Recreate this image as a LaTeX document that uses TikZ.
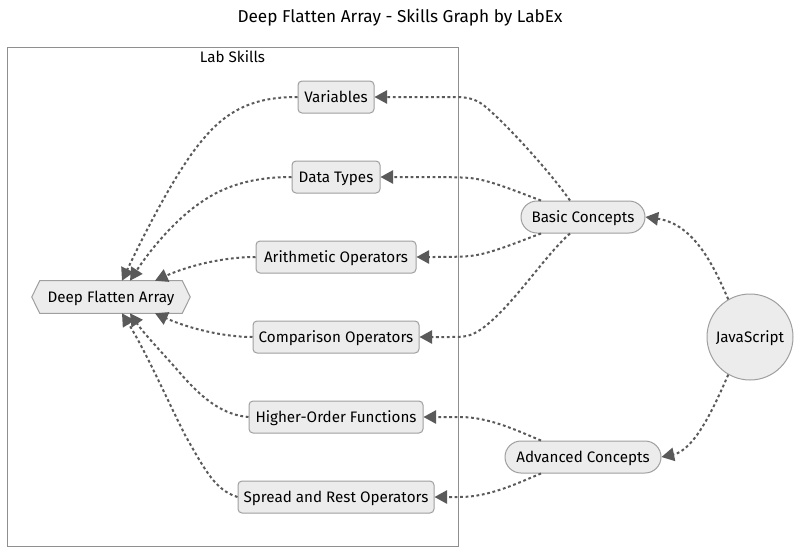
\documentclass[tikz,border=0pt]{standalone}
\usepackage{fontspec}
\setmainfont{Fira Sans}
\usetikzlibrary{arrows.meta,calc}
\definecolor{nodefill}{HTML}{ECECEC}
\definecolor{nodeline}{HTML}{9F9F9F}
\definecolor{edgecol}{HTML}{5A5A5A}
\tikzset{
  lbl/.style={font=\fontsize{11.4}{14}\selectfont,text=black,text height=10.5pt,text depth=3pt},
  base/.style={lbl,fill=nodefill,draw=nodeline,line width=0.75pt,inner sep=0pt,minimum height=24pt},
  skillbox/.style={base,rounded corners=3pt},
  pill/.style={base,rounded corners=12pt},
  hexlabel/.style={lbl,inner sep=0pt,minimum height=24pt},
  round/.style={base,circle,minimum size=64.5pt},
  edge/.style={draw=edgecol,line width=1.5pt,dash pattern=on 2.1pt off 2pt,-{Triangle[length=9.5pt,width=10pt,sep=0pt]}},
}
\begin{document}
\begin{tikzpicture}[x=0.75pt,y=-0.75pt]
\useasboundingbox (0,0) rectangle (800,554);
\fill[white] (0,0) rectangle (800,554);
\node[font=\fontsize{12.9}{15}\selectfont,text height=9.5pt,text depth=3pt] (title) at (400,18) {Deep Flatten Array - Skills Graph by LabEx};
\draw[draw=nodeline!90!black,line width=0.75pt] (7.5,47.5) rectangle (458,546);
\node[lbl] (cluster) at (232.5,57) {Lab Skills};
\node[skillbox,minimum width=57pt] (var) at (336,97) {Variables};
\node[skillbox,minimum width=66pt] (dt) at (336,177) {Data Types};
\node[skillbox,minimum width=120pt] (ar) at (336,257) {Arithmetic Operators};
\node[skillbox,minimum width=124.5pt] (co) at (336,337) {Comparison Operators};
\node[skillbox,minimum width=130.5pt] (ho) at (336,417) {Higher-Order Functions};
\node[skillbox,minimum width=147pt] (sp) at (336,497) {Spread and Rest Operators};
\node[pill,minimum width=93pt] (ba) at (583,217) {Basic Concepts};
\node[pill,minimum width=117pt] (ad) at (583,457) {Advanced Concepts};
\node[round] (js) at (750,337) {JavaScript};
\node[hexlabel,minimum width=118.5pt] (df) at (111,297) {};
\draw[fill=nodefill,draw=nodeline,line width=0.75pt]
  ($(df.west)+(0,0)$) -- ($(df.north west)+(8,0)$) -- ($(df.north east)+(-8,0)$) -- (df.east)
  -- ($(df.south east)+(-8,0)$) -- ($(df.south west)+(8,0)$) -- cycle;
\node[hexlabel] (dflabel) at (df.center) {Deep Flatten Array};
% left edges
\draw[edge] (var.west) .. controls (262,97) and (232,105) .. (205,137) .. controls (180,165) and (150,222) .. ($(df.north)+(11,0)$);
\draw[edge] (dt.west) .. controls (255,177) and (225,185) .. (200,203) .. controls (175,220) and (150,250) .. ($(df.north)+(19,0)$);
\draw[edge] (ar.west) .. controls (225,257) and (190,265) .. ($(df.north)+(44,0)$);
\draw[edge] (co.west) .. controls (225,337) and (190,329) .. ($(df.south)+(44,0)$);
\draw[edge] (ho.west) .. controls (225,415) and (205,402) .. (180,373) .. controls (160,350) and (145,335) .. ($(df.south)+(19,0)$);
\draw[edge] (sp.west) .. controls (215,490) and (205,470) .. (185,435) .. controls (165,395) and (145,350) .. ($(df.south)+(11,0)$);
% right edges
\draw[edge] ($(ba.north)+(-13,0)$) .. controls (550,172) and (510,128) .. (487,108) .. controls (478,100) and (470,97) .. (455,97) .. controls (440,97) and (420,97) .. (var.east);
\draw[edge] ($(ba.north)+(-42,0)$) .. controls (515,191) and (490,180) .. (470,178) .. controls (460,177) and (430,177) .. (dt.east);
\draw[edge] ($(ba.south)+(-42,0)$) .. controls (515,243) and (490,254) .. (470,256) .. controls (460,257) and (440,257) .. (ar.east);
\draw[edge] ($(ba.south)+(-13,0)$) .. controls (545,255) and (510,310) .. (480,330) .. controls (470,336.5) and (465,337) .. (450,337) .. controls (440,337) and (430,337) .. (co.east);
\draw[edge] ($(ad.north)+(-42,0)$) .. controls (520,432) and (490,417) .. (460,417) .. controls (450,417) and (440,417) .. (ho.east);
\draw[edge] ($(ad.south)+(-42,0)$) .. controls (520,482) and (490,497) .. (460,497) .. controls (450,497) and (445,497) .. (sp.east);
\draw[edge] (js.120) .. controls (715,269) and (695,224) .. (ba.east);
\draw[edge] (js.240) .. controls (715,405) and (695,450) .. (ad.east);
\end{tikzpicture}
\end{document}
